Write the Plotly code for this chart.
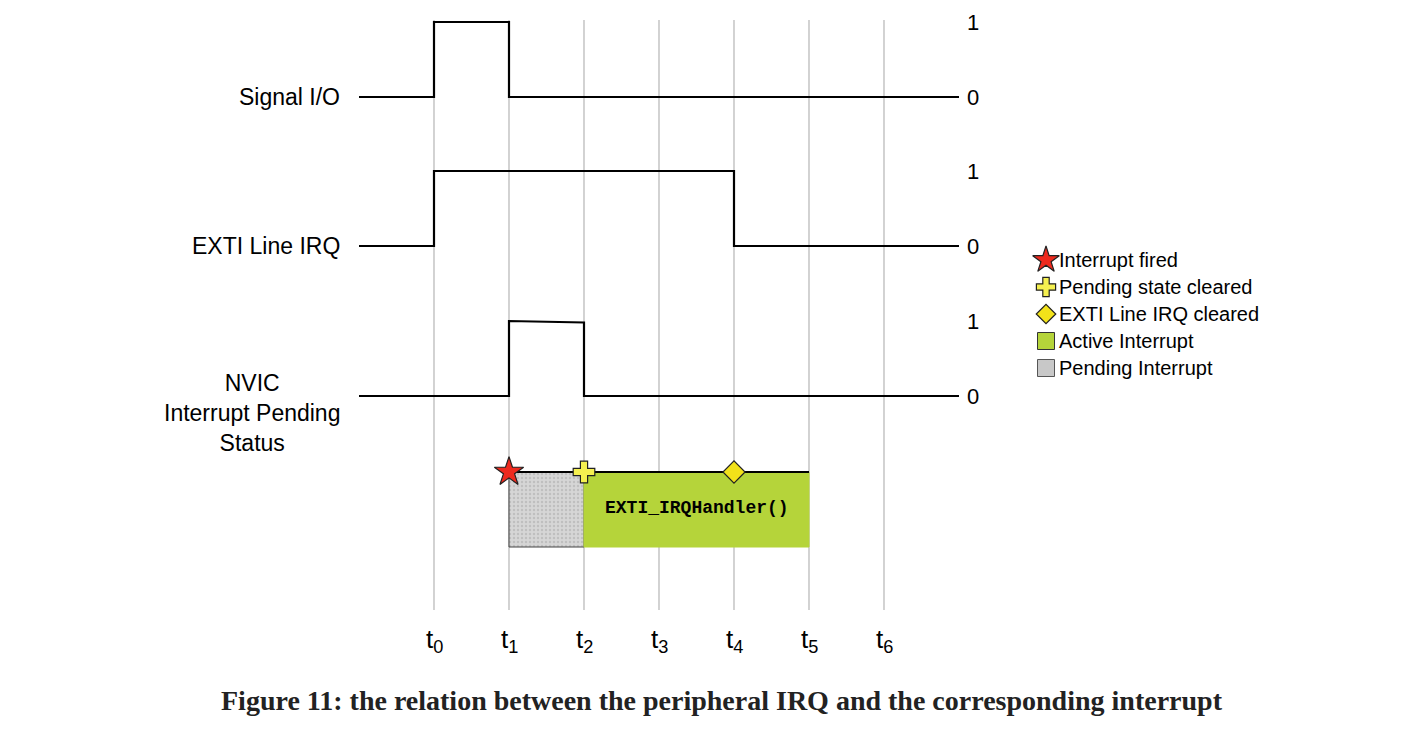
import plotly.graph_objects as go

ticks = ["t<sub>0</sub>", "t<sub>1</sub>", "t<sub>2</sub>", "t<sub>3</sub>", "t<sub>4</sub>", "t<sub>5</sub>", "t<sub>6</sub>"]
tick_times = [0, 1, 2, 3, 4, 5, 6]
sig_names = ["Signal I/O", "EXTI Line IRQ", "NVIC<br>Interrupt Pending<br>Status"]
sig_t = [[-1, 0, 0, 1, 1, 7], [-1, 0, 0, 4, 4, 7], [-1, 1, 1, 2, 2, 7]]
sig_v = [[0, 0, 1, 1, 0, 0], [0, 0, 1, 1, 0, 0], [0, 0, 1, 0.98, 0, 0]]
pending = (1, 2)
active = (2, 5)
handler = "EXTI_IRQHandler()"
events_t = [1, 2, 4]
legend_items = ["Interrupt fired", "Pending state cleared", "EXTI Line IRQ cleared", "Active Interrupt", "Pending Interrupt"]
caption = "Figure 11: the relation between the peripheral IRQ and the corresponding interrupt"

X0, DX = 434, 75.0
bases = [97, 246, 396]
AMP = 75
BAR_TOP, BAR_BOT = 472, 547
OFF = 8  # page body margin

def t_of_px(px):
    return (px - X0) / DX

fig = go.Figure()
for t in tick_times:
    fig.add_shape(type="line", x0=t, x1=t, y0=20, y1=610, line=dict(color="#b5b5b5", width=1.2), layer="below")
for k in range(3):
    fig.add_trace(go.Scatter(x=sig_t[k], y=[bases[k] - v * AMP for v in sig_v[k]], mode="lines",
                             line=dict(color="black", width=2.2), showlegend=False, hoverinfo="skip"))
    fig.add_annotation(x=t_of_px(342), y=bases[k], text=sig_names[k], showarrow=False, xanchor="right",
                       align="center", font=dict(family="Liberation Sans", size=23, color="black"),
                       yanchor="middle" if k < 2 else "top", yshift=0 if k < 2 else 28)
    fig.add_annotation(x=t_of_px(973), y=bases[k] - AMP, text="1", showarrow=False,
                       font=dict(family="Liberation Sans", size=22, color="black"))
    fig.add_annotation(x=t_of_px(973), y=bases[k], text="0", showarrow=False,
                       font=dict(family="Liberation Sans", size=22, color="black"))
fig.add_trace(go.Scatter(x=[pending[0], pending[1], pending[1], pending[0], pending[0]],
                         y=[BAR_TOP, BAR_TOP, BAR_BOT, BAR_BOT, BAR_TOP], mode="lines", fill="toself",
                         fillcolor="#d6d6d6", fillpattern=dict(shape=".", fgcolor="#a8a8a8", bgcolor="#d6d6d6", size=4, solidity=0.3),
                         line=dict(color="#444", width=1), showlegend=False, hoverinfo="skip"))
fig.add_trace(go.Scatter(x=[active[0], active[1], active[1], active[0], active[0]],
                         y=[BAR_TOP, BAR_TOP, BAR_BOT, BAR_BOT, BAR_TOP], mode="lines", fill="toself",
                         fillcolor="#b5d43a", line=dict(color="#b5d43a", width=1), showlegend=False, hoverinfo="skip"))
fig.add_trace(go.Scatter(x=[pending[0], active[1]], y=[BAR_TOP, BAR_TOP], mode="lines",
                         line=dict(color="black", width=2.2), showlegend=False, hoverinfo="skip"))
fig.add_annotation(x=(active[0] + active[1]) / 2, y=(BAR_TOP + BAR_BOT) / 2 - 2, text="<b>" + handler + "</b>",
                   showarrow=False, font=dict(family="Liberation Mono", size=18, color="black"))
syms = ["star", "cross", "diamond"]
cols = ["#ee2a1e", "#f5f050", "#f2e21a"]
sizes = [22, 18, 17]
fig.add_trace(go.Scatter(x=events_t, y=[BAR_TOP] * 3, mode="markers", opacity=1,
                         marker=dict(symbol=syms, color=cols, size=sizes, opacity=1, line=dict(color="#222", width=1.2)),
                         showlegend=False, hoverinfo="skip"))
for t, lab in zip(tick_times, ticks):
    fig.add_annotation(x=t, y=640, text=lab, showarrow=False,
                       font=dict(family="Liberation Sans", size=26, color="black"))
ly = [260, 287, 314, 341, 368]
lx = t_of_px(1046)
fig.add_trace(go.Scatter(x=[lx] * 3, y=ly[:3], mode="markers", opacity=1,
                         marker=dict(symbol=syms, color=cols, size=[20, 16, 15], opacity=1, line=dict(color="#222", width=1.2)),
                         showlegend=False, hoverinfo="skip"))
fig.add_trace(go.Scatter(x=[lx], y=[ly[3]], mode="markers",
                         marker=dict(symbol="square", color="#b5d43a", size=17, line=dict(color="#333", width=1)),
                         showlegend=False, hoverinfo="skip"))
fig.add_trace(go.Scatter(x=[lx], y=[ly[4]], mode="markers",
                         marker=dict(symbol="square", color="#c8c8c8", size=17, line=dict(color="#555", width=1)),
                         showlegend=False, hoverinfo="skip"))
for y, txt in zip(ly, legend_items):
    fig.add_annotation(x=t_of_px(1057), y=y, text=txt, showarrow=False, xanchor="left",
                       font=dict(family="Liberation Sans", size=20, color="black"))
fig.add_annotation(x=t_of_px(722), y=700, text="<b>" + caption + "</b>", showarrow=False,
                   font=dict(family="Liberation Serif", size=28, color="#222"))

fig.update_layout(width=1414, height=732, margin=dict(l=0, r=0, t=0, b=0),
                  paper_bgcolor="white", plot_bgcolor="white",
                  xaxis=dict(range=[t_of_px(OFF), t_of_px(1414 + OFF)], visible=False, fixedrange=True),
                  yaxis=dict(range=[732 + OFF, OFF], visible=False, fixedrange=True))
fig.write_html("out.html")
